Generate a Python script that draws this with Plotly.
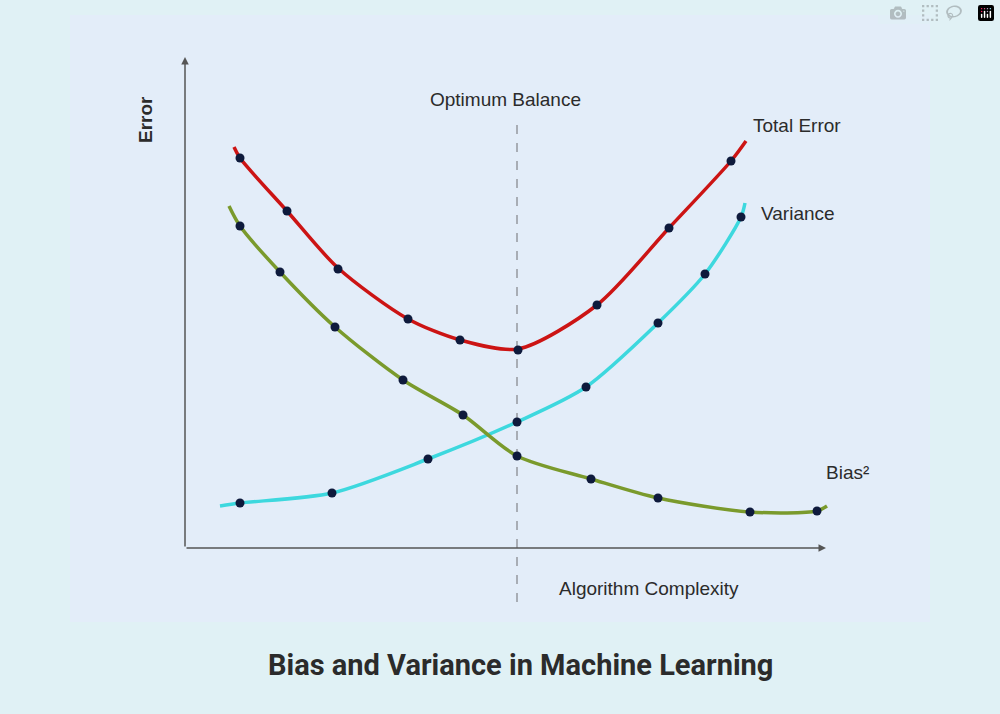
import plotly.graph_objects as go

# data in picture units: complexity (x), error (y, measured downward from top)
H = 714
total_x = [234, 240, 287, 338, 408, 460, 518, 597, 669, 731, 746]
total_y = [147, 158, 211, 268, 319, 340, 349, 305, 228, 161, 141]
total_dx = [240, 287, 338, 408, 460, 518, 597, 669, 731]
total_dy = [158, 211, 269, 319, 340, 350, 305, 228, 161]
var_x = [220, 240, 332, 428, 517, 586, 658, 705, 741, 745]
var_y = [506, 503, 493, 459, 422, 387, 323, 274, 217, 203]
var_dx = [240, 332, 428, 517, 586, 658, 705, 741]
var_dy = [503, 493, 459, 422, 387, 323, 274, 217]
bias_x = [229, 240, 280, 335, 403, 463, 517, 591, 658, 750, 817, 827]
bias_y = [206, 226, 272, 327, 380, 415, 456, 479, 498, 512, 511, 506]
bias_dx = [240, 280, 335, 403, 463, 517, 591, 658, 750, 817]
bias_dy = [226, 272, 327, 380, 415, 456, 479, 498, 512, 511]
optimum_x = 517

f = lambda ys: [H - y for y in ys]
fig = go.Figure()
for xs, ys, c in [(total_x, total_y, "#cc1414"), (var_x, var_y, "#3dd8de"), (bias_x, bias_y, "#7a9a2c")]:
    fig.add_trace(go.Scatter(x=xs, y=f(ys), mode="lines", line=dict(color=c, width=3.5, shape="spline", smoothing=0.8)))
fig.add_trace(go.Scatter(x=[optimum_x, optimum_x], y=f([125, 603]), mode="lines",
                         line=dict(color="#a8adb5", width=2, dash="dash")))
for xs, ys in [(total_dx, total_dy), (var_dx, var_dy), (bias_dx, bias_dy)]:
    fig.add_trace(go.Scatter(x=xs, y=f(ys), mode="markers", marker=dict(color="#0e1a3c", size=9)))

shapes = [dict(type="rect", xref="x", yref="y", x0=70, x1=930, y0=H-622, y1=H-15,
               fillcolor="#e3edf9", line=dict(width=0), layer="below")]
ann = []
ann.append(dict(x=826, y=H-548, ax=185, ay=H-548, xref="x", yref="y", axref="x", ayref="y",
                showarrow=True, arrowhead=2, arrowsize=1, arrowwidth=1.5, arrowcolor="#555", text=""))
ann.append(dict(x=185, y=H-57, ax=185, ay=H-548, xref="x", yref="y", axref="x", ayref="y",
                showarrow=True, arrowhead=2, arrowsize=1, arrowwidth=1.5, arrowcolor="#555", text=""))
fnt = dict(family="Arial, Liberation Sans", size=19, color="#2b2b2b")
def t(x, y, s, anchor="left", **kw):
    ann.append(dict(x=x, y=H-y, xref="x", yref="y", text=s, showarrow=False, xanchor=anchor,
                    yanchor="middle", font=kw.pop("font", fnt), **kw))
t(505, 99, "Optimum Balance", "center")
t(751, 125, "Total Error")
t(759, 213, "Variance")
t(824, 472, "Bias²")
t(557, 588, "Algorithm Complexity")
t(145, 120, "<b>Error</b>", "center", textangle=-90)
t(520, 665, "<b>Bias and Variance in Machine Learning</b>", "center",
  font=dict(family="Roboto, Arial", size=29, color="#2b2b2b"))

fig.update_layout(width=1000, height=714, margin=dict(l=0, r=0, t=0, b=0),
                  paper_bgcolor="#e0f1f5", plot_bgcolor="rgba(0,0,0,0)", showlegend=False,
                  xaxis=dict(range=[0, 1000], visible=False, fixedrange=True),
                  yaxis=dict(range=[0, 714], visible=False, fixedrange=True),
                  shapes=shapes, annotations=ann)
fig.write_html("out.html")
with open("out.html", encoding="utf-8") as fh:
    html = fh.read()
html = html.replace("<head>", "<head><style>html,body{margin:0;padding:0;overflow:hidden;}</style>", 1)
with open("out.html", "w", encoding="utf-8") as fh:
    fh.write(html)
